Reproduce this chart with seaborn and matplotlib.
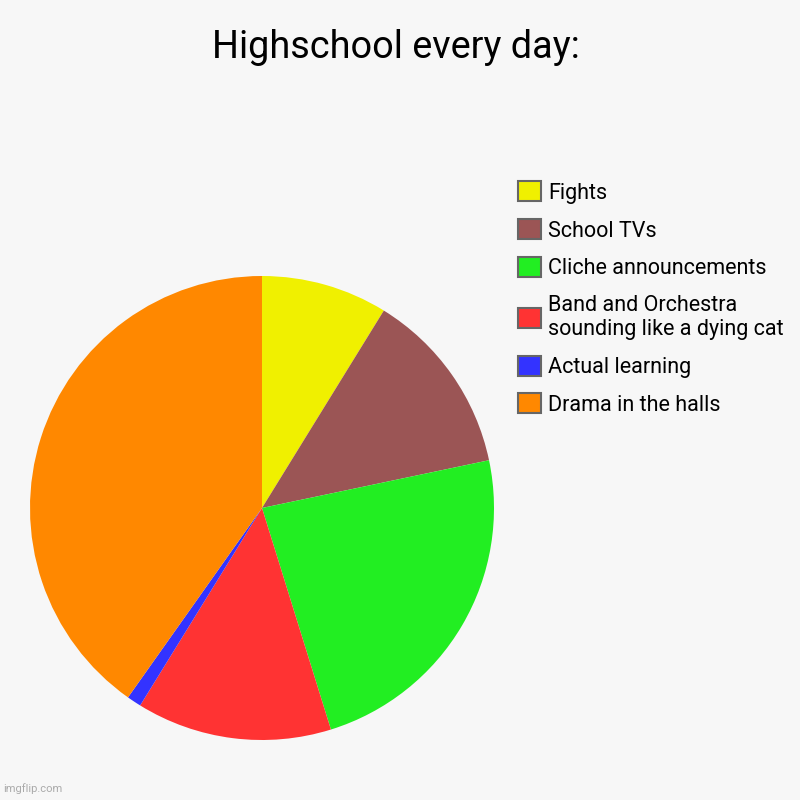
import matplotlib
matplotlib.use('Agg')
import matplotlib.pyplot as plt
import seaborn as sns
from matplotlib.patches import Patch

# 数据
labels = ['Fights', 'School TVs', 'Cliche announcements',
          'Band and Orchestra\nsounding like a dying cat',
          'Actual learning', 'Drama in the halls']
values = [8.8, 12.9, 23.5, 13.6, 1.0, 40.2]
colors = ['#F0F000', '#9B5555', '#22EE22', '#FF3333', '#3333FF', '#FF8800']

sns.set_style('white')
plt.rcParams['font.family'] = ['Roboto', 'DejaVu Sans']
plt.rcParams['text.color'] = 'black'

fig = plt.figure(figsize=(8, 8), dpi=100)
fig.patch.set_facecolor('#F7F7F7')

ax = fig.add_axes([0.0375, 0.075, 0.58, 0.58])
ax.set_facecolor('#F7F7F7')
ax.pie(values, colors=colors, startangle=90, counterclock=False,
       wedgeprops={'linewidth': 0})
ax.set_xlim(-1, 1)
ax.set_ylim(-1, 1)
ax.set_aspect('equal')
ax.axis('off')

fig.text(0.495, 0.94, 'Highschool every day:', ha='center', va='center',
         fontsize=27.3, color='black')

handles = [Patch(facecolor=c, edgecolor='#666666', linewidth=1.5) for c in colors]
leg = fig.legend(handles, labels, loc='upper left', bbox_to_anchor=(0.637, 0.784),
                 frameon=False, fontsize=15.5, handlelength=1.05, handleheight=1.05,
                 handletextpad=0.35, labelspacing=0.72, borderaxespad=0)
for t in leg.get_texts():
    t.set_color('black')

fig.text(0.004, 0.008, 'imgflip.com', fontsize=8, color='#AAAAAA', ha='left', va='bottom')

plt.savefig('out.png', dpi=100, facecolor=fig.get_facecolor())
